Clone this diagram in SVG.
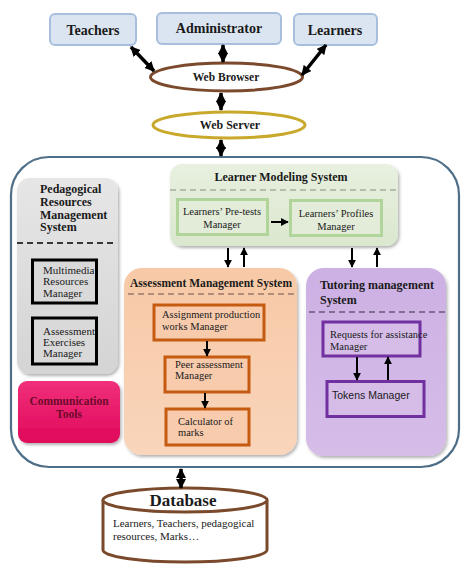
<svg xmlns="http://www.w3.org/2000/svg" width="474" height="570" viewBox="0 0 474 570">
<defs>
<style>
.serif{font-family:"Liberation Serif","Times New Roman",serif;fill:#1a1a1a}
.b{font-weight:bold}
.top{fill:#dbe5f1;stroke:#a7bfdc;stroke-width:2}
.conn{stroke:#000;fill:none}
.thick{stroke-width:3.5}
.thin{stroke-width:2}
</style>
<marker id="ah" viewBox="0 0 10 10" refX="9" refY="5" markerWidth="10" markerHeight="10" markerUnits="userSpaceOnUse" orient="auto-start-reverse"><path d="M0,0 L10,5 L0,10 z" fill="#000"/></marker>
<marker id="as" viewBox="0 0 10 10" refX="9" refY="5" markerWidth="8" markerHeight="8" markerUnits="userSpaceOnUse" orient="auto-start-reverse"><path d="M0,0 L10,5 L0,10 z" fill="#000"/></marker>
<linearGradient id="gGray" x1="0" y1="0" x2="0" y2="1"><stop offset="0" stop-color="#e6e6e6"/><stop offset="1" stop-color="#d4d4d4"/></linearGradient>
<linearGradient id="gPink" x1="0" y1="0" x2="0" y2="1"><stop offset="0" stop-color="#f0307a"/><stop offset="1" stop-color="#e0085a"/></linearGradient>
<linearGradient id="gGreen" x1="0" y1="0" x2="0" y2="1"><stop offset="0" stop-color="#e8f0df"/><stop offset="1" stop-color="#dbe7cf"/></linearGradient>
<linearGradient id="gPeach" x1="0" y1="0" x2="0" y2="1"><stop offset="0" stop-color="#f7c9a6"/><stop offset="1" stop-color="#f9d5bb"/></linearGradient>
<linearGradient id="gPurple" x1="0" y1="0" x2="0" y2="1"><stop offset="0" stop-color="#cdb0e4"/><stop offset="1" stop-color="#d5bde8"/></linearGradient>
<filter id="sh" x="-10%" y="-10%" width="125%" height="125%"><feDropShadow dx="1.5" dy="2" stdDeviation="1.5" flood-color="#000" flood-opacity="0.3"/></filter>
</defs>
<rect width="474" height="570" fill="#fff"/>

<g id="teachers"><rect class="top" x="50" y="14" width="86" height="31" rx="5"/><text class="serif b" x="93" y="35" font-size="14" text-anchor="middle">Teachers</text></g>
<g id="administrator"><rect class="top" x="157" y="13" width="124" height="31" rx="5"/><text class="serif b" x="219" y="33" font-size="14" text-anchor="middle">Administrator</text></g>
<g id="learners"><rect class="top" x="294" y="14" width="83" height="31" rx="5"/><text class="serif b" x="335" y="35" font-size="14" text-anchor="middle">Learners</text></g>

<g id="web-browser"><ellipse cx="226.5" cy="77" rx="76" ry="14" fill="#fff" stroke="#7b4a2c" stroke-width="3"/><text class="serif b" x="226" y="81" font-size="11.5" text-anchor="middle">Web Browser</text></g>
<g id="web-server"><ellipse cx="229" cy="125" rx="76" ry="13" fill="#fff" stroke="#c9a92c" stroke-width="3"/><text class="serif b" x="230" y="129" font-size="12" text-anchor="middle">Web Server</text></g>

<g id="container"><rect x="11" y="157" width="448" height="310" rx="38" fill="#fff" stroke="#4f6f88" stroke-width="2.2"/></g>

<g id="pedagogical">
<rect x="17" y="178" width="101" height="196" rx="13" fill="url(#gGray)" filter="url(#sh)"/>
<text class="serif b" font-size="12"><tspan x="40" y="193">Pedagogical</tspan><tspan x="40" y="206">Resources</tspan><tspan x="40" y="218.5">Management</tspan><tspan x="40" y="231">System</tspan></text>
<line x1="17" y1="243" x2="117" y2="243" stroke="#000" stroke-width="1.6" stroke-dasharray="6,4"/>
<g id="multimedia"><rect x="32.5" y="260" width="64" height="43" fill="#d9d9d9" stroke="#000" stroke-width="3"/><text class="serif" font-size="11"><tspan x="43" y="274">Multimedia</tspan><tspan x="43" y="285">Resources</tspan><tspan x="43" y="296.5">Manager</tspan></text></g>
<g id="assessment-exercises"><rect x="32.5" y="318" width="64" height="46" fill="#d9d9d9" stroke="#000" stroke-width="3"/><text class="serif" font-size="11"><tspan x="43" y="335">Assessment</tspan><tspan x="43" y="345.5">Exercises</tspan><tspan x="43" y="356.5">Manager</tspan></text></g>
</g>

<g id="communication-tools"><rect x="18" y="381" width="102" height="62" rx="9" fill="url(#gPink)" filter="url(#sh)"/><text class="serif b" font-size="11.5" text-anchor="middle" style="fill:#6e0a2a"><tspan x="69" y="405">Communication</tspan><tspan x="69" y="418">Tools</tspan></text></g>

<g id="learner-modeling">
<rect x="170" y="164" width="228" height="82" rx="12" fill="url(#gGreen)" filter="url(#sh)"/>
<text class="serif b" x="281" y="181" font-size="12" text-anchor="middle">Learner Modeling System</text>
<line x1="170" y1="190" x2="396" y2="190" stroke="#a5ad9f" stroke-width="1.4" stroke-dasharray="6,4"/>
<g id="pretests"><rect x="177.5" y="199.5" width="90" height="35" fill="#e2ecd8" stroke="#b0d49a" stroke-width="3"/><text class="serif" font-size="10.5" text-anchor="middle"><tspan x="222" y="215">Learners’ Pre-tests</tspan><tspan x="222" y="228">Manager</tspan></text></g>
<g id="profiles"><rect x="290.5" y="200.5" width="91" height="35" fill="#e2ecd8" stroke="#b0d49a" stroke-width="3"/><text class="serif" font-size="10.5" text-anchor="middle"><tspan x="336" y="217">Learners’ Profiles</tspan><tspan x="336" y="230">Manager</tspan></text></g>
</g>

<g id="assessment-management">
<rect x="124" y="268" width="173" height="187" rx="18" fill="url(#gPeach)" filter="url(#sh)"/>
<text class="serif b" x="130" y="287" font-size="11.5" textLength="162">Assessment Management System</text>
<line x1="128" y1="294" x2="295" y2="294" stroke="#9a7a6a" stroke-width="1.4" stroke-dasharray="6,4"/>
<g id="assignment"><rect x="154" y="305" width="110" height="35" fill="#f8cbad" stroke="#c55a11" stroke-width="3"/><text class="serif" font-size="10.5"><tspan x="162" y="318">Assignment production</tspan><tspan x="162" y="330">works Manager</tspan></text></g>
<g id="peer"><rect x="165" y="357" width="84" height="35" fill="#f8cbad" stroke="#c55a11" stroke-width="3"/><text class="serif" font-size="10.5"><tspan x="175" y="368">Peer assessment</tspan><tspan x="175" y="379">Manager</tspan></text></g>
<g id="calculator"><rect x="166" y="409" width="83" height="36" fill="#f8cbad" stroke="#c55a11" stroke-width="3"/><text class="serif" font-size="10.5"><tspan x="178" y="425">Calculator of</tspan><tspan x="178" y="436">marks</tspan></text></g>
</g>

<g id="tutoring-management">
<rect x="306" y="268" width="140" height="188" rx="18" fill="url(#gPurple)" filter="url(#sh)"/>
<text class="serif b" font-size="12"><tspan x="320" y="289">Tutoring management</tspan><tspan x="320" y="304">System</tspan></text>
<line x1="309" y1="312" x2="446" y2="312" stroke="#6a5a7a" stroke-width="1.4" stroke-dasharray="6,4"/>
<g id="requests"><rect x="323" y="322" width="97" height="34" fill="#d5bde8" stroke="#7030a0" stroke-width="3"/><text class="serif" font-size="10.5"><tspan x="330" y="338">Requests for assistance</tspan><tspan x="330" y="350">Manager</tspan></text></g>
<g id="tokens"><rect x="327" y="381.5" width="97" height="35" fill="#d5bde8" stroke="#7030a0" stroke-width="3"/><text x="332" y="399" font-size="10.5" font-family="Liberation Sans, Arial, sans-serif" fill="#1a1a1a">Tokens Manager</text></g>
</g>

<g id="database">
<path d="M103,500 L103,550 A82,12 0 0 0 267,550 L267,500" fill="#fff" stroke="#7b4a2c" stroke-width="3"/>
<ellipse cx="185" cy="500" rx="82" ry="12" fill="#fff" stroke="#7b4a2c" stroke-width="3"/>
<text class="serif b" x="183" y="506" font-size="17" text-anchor="middle">Database</text>
<text class="serif" font-size="11"><tspan x="113" y="527">Learners, Teachers, pedagogical</tspan><tspan x="113" y="540">resources, Marks…</tspan></text>
</g>

<g id="connectors">
<line class="conn thick" x1="131" y1="47" x2="154" y2="71" marker-start="url(#ah)" marker-end="url(#ah)"/>
<line class="conn thick" x1="223" y1="45" x2="223" y2="62" marker-start="url(#ah)" marker-end="url(#ah)"/>
<line class="conn thick" x1="326" y1="45" x2="302" y2="75" marker-start="url(#ah)" marker-end="url(#ah)"/>
<line class="conn thick" x1="221" y1="93" x2="221" y2="110" marker-start="url(#ah)" marker-end="url(#ah)"/>
<line class="conn thick" x1="221" y1="140" x2="221" y2="156" marker-start="url(#ah)" marker-end="url(#ah)"/>
<line class="conn thick" x1="181" y1="469" x2="181" y2="488" marker-start="url(#ah)" marker-end="url(#ah)"/>
<line class="conn thin" x1="271" y1="222" x2="288" y2="222" marker-end="url(#as)"/>
<line class="conn thin" x1="228" y1="248" x2="228" y2="267" marker-end="url(#as)"/>
<line class="conn thin" x1="244" y1="267" x2="244" y2="248" marker-end="url(#as)"/>
<line class="conn thin" x1="352" y1="248" x2="352" y2="267" marker-end="url(#as)"/>
<line class="conn thin" x1="377" y1="267" x2="377" y2="248" marker-end="url(#as)"/>
<line class="conn thin" x1="207" y1="341" x2="207" y2="356" marker-end="url(#as)"/>
<line class="conn thin" x1="205" y1="393" x2="205" y2="408" marker-end="url(#as)"/>
<line class="conn thin" x1="357" y1="357" x2="357" y2="380" marker-end="url(#as)"/>
<line class="conn thin" x1="388" y1="380" x2="388" y2="357" marker-end="url(#as)"/>
</g>
</svg>
